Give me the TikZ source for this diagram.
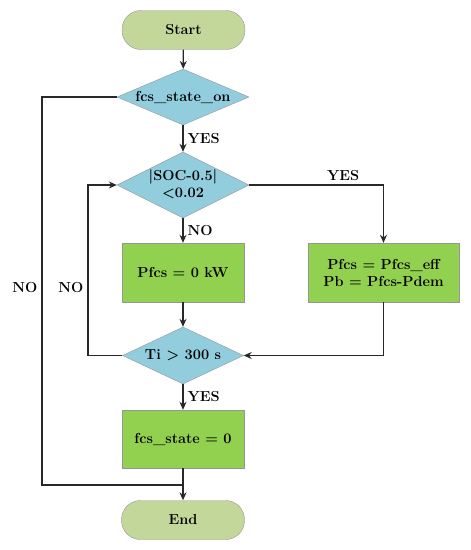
\documentclass[tikz,border=0pt]{standalone}
\usetikzlibrary{shapes.geometric,arrows.meta}
\definecolor{termfill}{RGB}{196,215,155}
\definecolor{decfill}{RGB}{146,205,222}
\definecolor{procfill}{RGB}{146,208,80}
\definecolor{edgegray}{RGB}{150,150,150}
\definecolor{linec}{RGB}{40,40,40}
\begin{document}
\begin{tikzpicture}[x=1pt,y=-1pt,
  font=\fontsize{14.5}{17}\selectfont\bfseries,
  term/.style={rectangle, rounded corners=19pt, draw=edgegray, fill=termfill,
    minimum width=123pt, minimum height=39pt, inner sep=0pt},
  dec/.style={diamond, draw=edgegray, fill=decfill, inner sep=0pt, aspect=2.3},
  proc/.style={rectangle, draw=edgegray, fill=procfill, inner sep=0pt,
    minimum height=59pt, align=center},
  txt/.style={inner sep=0pt, align=center},
  conn/.style={draw=linec, line width=1.2pt, -{Stealth[length=8pt,width=7pt]}},
  plain/.style={draw=linec, line width=1.2pt},
  lab/.style={inner sep=4pt}]
\useasboundingbox (0,0) rectangle (471,550);

\node[term] (start) at (183.5,30) {Start};
\node[dec, minimum width=132pt, minimum height=56pt] (d1) at (183,97) {};
\node[txt] (d1t) at (d1.center) {fcs\_state\_on};
\node[dec, minimum width=132pt, minimum height=66pt] (d2) at (183,185) {};
\node[txt, yshift=1pt] (d2t) at (d2.center) {|SOC-0.5|\\<0.02};
\node[proc, minimum width=122pt] (b1) at (183,272.5) {Pfcs = 0 kW};
\node[proc, minimum width=151pt] (b2) at (383.5,272.5) {Pfcs = Pfcs\_eff\\Pb = Pfcs-Pdem};
\node[dec, minimum width=121pt, minimum height=57pt] (d3) at (183,355.5) {};
\node[txt] (d3t) at (d3.center) {Ti > 300 s};
\node[proc, minimum width=122pt, minimum height=58pt] (b3) at (183,439) {fcs\_state = 0};
\node[term] (end) at (183,520) {End};

\coordinate (lp) at (88,0);
\coordinate (ll) at (42,0);
\coordinate (join) at (183,485);

\draw[conn] (start) -- (d1);
\draw[conn] (d1) -- node[lab, right] {YES} (d2);
\draw[conn] (d2) -- node[lab, right] {NO} (b1);
\draw[conn] (d2.east) -| node[lab, pos=0.35, above] {YES} (b2);
\draw[conn] (b1) -- (d3);
\draw[conn] (b2.south) |- (d3.east);
\draw[conn] (d3.west) -- (d3.west -| lp) -- node[lab, left, pos=0.4] {NO} (d2.west -| lp) -- (d2.west);
\draw[plain] (d1.west) -- (d1.west -| ll) -- node[lab, left, pos=0.49] {NO} (ll |- join) -- (join);
\draw[conn] (d3) -- node[lab, right] {YES} (b3);
\draw[conn] (b3) -- (end);
\end{tikzpicture}
\end{document}
